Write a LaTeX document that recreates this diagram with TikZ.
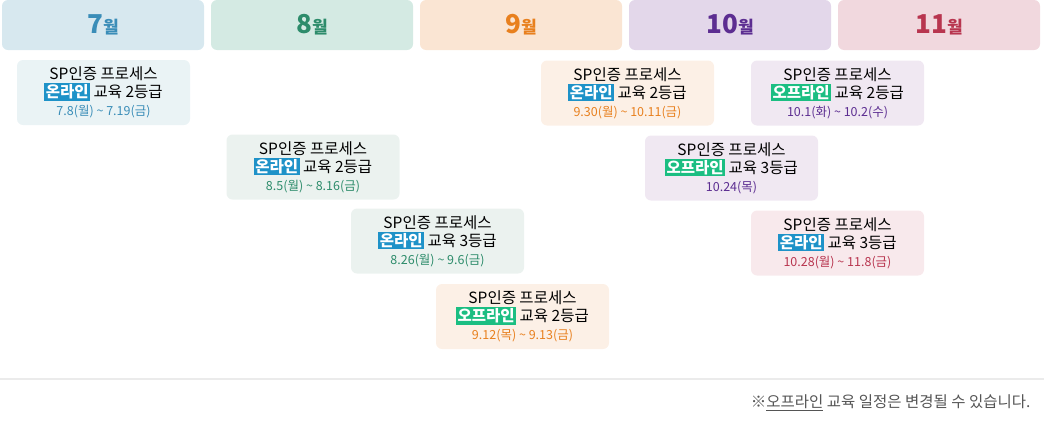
\documentclass[tikz,border=0pt]{standalone}
\usepackage{fontspec}
\setmainfont{Noto Sans CJK KR}
\usepackage{tikz}
\usetikzlibrary{ positioning }

% month colours (header fill / text / card fill)
\definecolor{julbg}{HTML}{D7E8EF}\definecolor{jultx}{HTML}{3A8DB8}\definecolor{julcd}{HTML}{EAF3F5}
\definecolor{augbg}{HTML}{D4EAE3}\definecolor{augtx}{HTML}{2D8C6B}\definecolor{augcd}{HTML}{EBF2EF}
\definecolor{sepbg}{HTML}{FAE5D3}\definecolor{septx}{HTML}{E8801E}\definecolor{sepcd}{HTML}{FCF0E6}
\definecolor{octbg}{HTML}{E3D7EA}\definecolor{octtx}{HTML}{5C2D91}\definecolor{octcd}{HTML}{F0E8F2}
\definecolor{novbg}{HTML}{F1D8DE}\definecolor{novtx}{HTML}{B8354F}\definecolor{novcd}{HTML}{F8E9EC}
\definecolor{onblue}{HTML}{1E92C8}
\definecolor{offgreen}{HTML}{1BBE82}
\definecolor{notegray}{HTML}{555555}

\newcommand{\monthlabel}[1]{{\fontsize{26}{26}\selectfont #1}\fontsize{17}{17}\selectfont 월}
\newcommand{\onl}{{\setlength{\fboxsep}{1.5pt}\colorbox{onblue}{\bfseries\textcolor{white}{온라인}}}}
\newcommand{\offl}{{\setlength{\fboxsep}{1.5pt}\colorbox{offgreen}{\bfseries\textcolor{white}{오프라인}}}}
\newcommand{\datefont}{\fontsize{12.5}{15}\selectfont}

\tikzset{
month/.style={minimum width=202pt, minimum height=50pt, inner sep=0pt, outer sep=0pt,
  rounded corners=6pt, font=\bfseries}, % header of one month
card/.style={minimum width=173pt, minimum height=65pt, inner sep=0pt,
  rounded corners=6pt, align=center, font=\fontsize{15.5}{18}\selectfont}, % one course
}

\begin{document}
\begin{tikzpicture}[x=1pt, y=-1pt]
  \useasboundingbox (0,0) rectangle (1044,426);

  % Month headers ------------------------------------
  \node[month, fill=julbg, text=jultx] (m7) at (103,25) {\monthlabel{7}};
  \node[month, fill=augbg, text=augtx, right=7pt of m7] (m8) {\monthlabel{8}};
  \node[month, fill=sepbg, text=septx, right=7pt of m8] (m9) {\monthlabel{9}};
  \node[month, fill=octbg, text=octtx, right=7pt of m9] (m10) {\monthlabel{10}};
  \node[month, fill=novbg, text=novtx, right=7pt of m10] (m11) {\monthlabel{11}};

  % Courses ------------------------------------------
  \node[card, fill=julcd] (c1) at (103.5,92.5)
    {SP인증 프로세스\\\onl{} 교육 2등급\\{\datefont\color{jultx}7.8(월) \textasciitilde{} 7.19(금)}};
  \node[card, fill=augcd] (c2) at (313,167)
    {SP인증 프로세스\\\onl{} 교육 2등급\\{\datefont\color{augtx}8.5(월) \textasciitilde{} 8.16(금)}};
  \node[card, fill=augcd] (c3) at (437.5,241)
    {SP인증 프로세스\\\onl{} 교육 3등급\\{\datefont\color{augtx}8.26(월) \textasciitilde{} 9.6(금)}};
  \node[card, fill=sepcd] (c4) at (522.5,316.5)
    {SP인증 프로세스\\\offl{} 교육 2등급\\{\datefont\color{septx}9.12(목) \textasciitilde{} 9.13(금)}};
  \node[card, fill=sepcd] (c5) at (627.5,93)
    {SP인증 프로세스\\\onl{} 교육 2등급\\{\datefont\color{septx}9.30(월) \textasciitilde{} 10.11(금)}};
  \node[card, fill=octcd] (c6) at (731.5,168)
    {SP인증 프로세스\\\offl{} 교육 3등급\\{\datefont\color{octtx}10.24(목)}};
  \node[card, fill=octcd] (c7) at (837.5,93)
    {SP인증 프로세스\\\offl{} 교육 2등급\\{\datefont\color{octtx}10.1(화) \textasciitilde{} 10.2(수)}};
  \node[card, fill=novcd] (c8) at (837.5,243)
    {SP인증 프로세스\\\onl{} 교육 3등급\\{\datefont\color{novtx}10.28(월) \textasciitilde{} 11.8(금)}};

  % Note ---------------------------------------------
  \coordinate (ruleL) at (0,379);
  \coordinate (ruleR) at (1044,379);
  \draw[line width=1.5pt, black!8] (ruleL) -- (ruleR);
  \node[anchor=east, text=notegray, font=\fontsize{15.5}{17}\selectfont] (note) at (1034,403)
    {※\underline{오프라인} 교육 일정은 변경될 수 있습니다.};
\end{tikzpicture}
\end{document}
